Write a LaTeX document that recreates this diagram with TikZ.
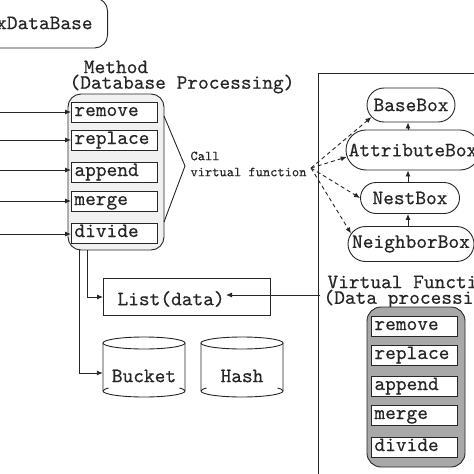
\documentclass[tikz,border=0pt]{standalone}
\usepackage{fontspec}
\newfontfamily\cour{lmmono10-regular.otf}[FakeBold=0.4]
\usetikzlibrary{arrows.meta,shapes.misc}
\definecolor{ln}{HTML}{262626}
\definecolor{lightfill}{HTML}{F1F1F1}
\definecolor{midfill}{HTML}{A8A8A8}
\tikzset{
  big/.style={font=\cour\fontsize{20.4}{22}\selectfont, text=ln},
  small/.style={font=\cour\fontsize{13.8}{17}\selectfont, text=ln},
  ln/.style={draw=ln, line width=0.9pt},
  arr/.style={ln, -{Latex[length=6pt,width=5pt]}},
  darr/.style={ln, dashed, dash pattern=on 4pt off 3pt, -{Latex[length=6pt,width=5pt]}},
  mbox/.style={big, ln, rectangle, fill=white, minimum height=20pt, text height=11pt, text depth=3pt, text width=80pt, inner xsep=3pt, inner ysep=0pt, align=left, anchor=west},
  pill/.style={big, ln, rounded rectangle, inner xsep=3pt, inner ysep=0pt, fill=white},
}
\begin{document}
\begin{tikzpicture}[x=1pt,y=-1pt]
\useasboundingbox (0,0) rectangle (474,474);
\clip (0,0) rectangle (474,474);
% top box
\node[big, ln, rectangle, rounded corners=13pt, anchor=east, minimum height=50pt, inner xsep=15pt] (db) at (108,23) {xDataBase};
% method title
\node[big] (mt) at (116,67) {Method};
\node[big] (mt2) at (182,84) {(Database Processing)};
% method container
\node[ln, rectangle, rounded corners=13pt, fill=lightfill, minimum width=96pt, minimum height=156pt, inner sep=0pt] (mc) at (116,172) {};
\node[mbox] (m1) at (71,112) {remove};
\node[mbox] (m2) at (71,140) {replace};
\node[mbox] (m3) at (71,172) {append};
\node[mbox] (m4) at (71,201) {merge};
\node[mbox] (m5) at (71,233) {divide};
% left incoming arrows
\foreach \i/\y in {1/112,2/140,3/170,4/201,5/234}{
  \coordinate (l\i) at (-3,\y);
  \draw[arr] (l\i) -- (m\i.west |- l\i);
}
% bracket
\coordinate (b1) at (164,116);
\coordinate (b2) at (185,166);
\coordinate (b3) at (164,222);
\draw[ln] (b1) -- (b2) -- (b3);
% call text
\node[small, anchor=west] (call) at (187,156) {Call};
\node[small, anchor=west] (vf) at (187,172) {virtual function};
% right panel border
\coordinate (pb) at (318,480);
\coordinate (pc) at (318,73);
\coordinate (pr) at (480,73);
\draw[ln] (pb) -- (pc) -- (pr);
% class boxes
\node[pill, minimum width=94pt, minimum height=34pt] (bb) at (411,105) {BaseBox};
\node[pill, minimum width=140pt, minimum height=40pt] (ab) at (413,150) {AttributeBox};
\node[pill, minimum width=105pt, minimum height=31pt] (ns) at (410,198) {NestBox};
\node[pill, minimum width=132pt, minimum height=35pt] (nb) at (411,244) {NeighborBox};
\coordinate (ax) at (408,0);
\draw[arr] (nb.north -| ax) -- (ns.south -| ax);
\draw[arr] (ns.north -| ax) -- (ab.south -| ax);
\draw[arr] (ab.north -| ax) -- (bb.south -| ax);
% dashed calls
\coordinate (o) at (311,168);
\draw[darr] (o) -- (bb.197);
\draw[darr] (o) -- (ab.186);
\draw[darr] (o) -- (ns.west);
\draw[darr] (o) -- (nb.170);
% virtual function panel
\node[big, anchor=west] (vt) at (324,282) {Virtual Functi};
\node[big, anchor=west] (vt2) at (320,299) {(Data processi};
\node[ln, rectangle, rounded corners=14pt, fill=midfill, minimum width=98pt, minimum height=160pt, inner sep=0pt] (vc) at (416,387) {};
\node[mbox] (v1) at (371,326) {remove};
\node[mbox] (v2) at (371,355) {replace};
\node[mbox] (v3) at (371,386) {append};
\node[mbox] (v4) at (371,415) {merge};
\node[mbox] (v5) at (371,447) {divide};
% list
\node[big, ln, rectangle, minimum width=167pt, minimum height=37pt, inner sep=0pt] (ls) at (187,297) {};
\node[big, anchor=west] (lt) at (114,299) {List(data)};
\coordinate (lr) at (320,295);
\draw[arr] (lr) -- (226,295);
% cylinders
\foreach \n/\cx/\t in {bk/144/Bucket, hs/242/Hash}{
  \begin{scope}[shift={(\cx,0)}]
    \draw[ln, fill=white] (-41,343) -- (-41,391) arc[start angle=180, end angle=360, x radius=41pt, y radius=6pt] -- (41,343);
    \draw[ln, fill=white] (0,343) ellipse[x radius=41pt, y radius=6pt];
    \draw[ln] (-41,391) arc[start angle=180, end angle=150, x radius=41pt, y radius=6pt];
    \draw[ln] (41,391) arc[start angle=0, end angle=30, x radius=41pt, y radius=6pt];
    \node[big, minimum width=82pt, minimum height=60pt, inner sep=0pt] (\n) at (0,376) {\t};
  \end{scope}
}
% connectors from method container
\coordinate (c1) at (87,250);
\coordinate (c2) at (79,250);
\coordinate (bky) at (0,373);
\draw[arr] (c1) |- (ls.west);
\draw[arr] (c2) |- (bk.west |- bky);
\end{tikzpicture}
\end{document}
